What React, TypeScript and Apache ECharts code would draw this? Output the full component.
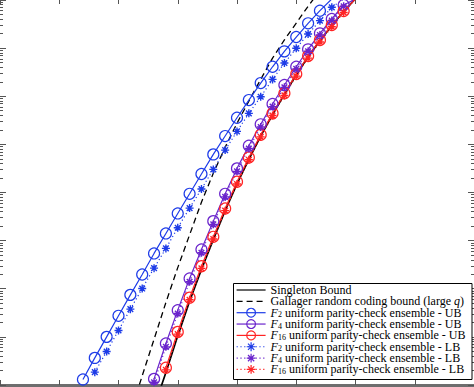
import React, { useEffect, useRef } from "react";
import * as echarts from "echarts";

// x positions (arbitrary units: one tick = 1) and block error probabilities
const singletonX = [2.7, 2.8, 3.0, 3.2, 3.4, 3.6, 3.8, 4.0, 4.2, 4.4, 4.6, 4.8, 5.0, 5.2, 5.4, 5.6, 5.8, 6.0];
const singletonY = [7.9e-9, 1.82e-8, 1.05e-7, 5.5e-7, 2.51e-6, 1.05e-5, 4.17e-5, 1.51e-4, 4.9e-4, 1.48e-3, 4.17e-3, 1.1e-2, 2.79e-2, 6.6e-2, 0.143, 0.295, 0.575, 1.07];

const gallagerX = [2.2, 2.4, 2.6, 2.8, 3.0, 3.2, 3.4, 3.6, 3.8, 4.0, 4.2, 4.4, 4.6, 4.8, 5.0, 5.2, 5.4];
const gallagerY = [2.6e-9, 1.55e-8, 8.9e-8, 5.2e-7, 2.75e-6, 1.32e-5, 6.3e-5, 2.51e-4, 8.7e-4, 2.75e-3, 7.9e-3, 2.24e-2, 6.2e-2, 0.148, 0.331, 0.741, 1.58];

const f2UbX = [1.4, 1.6, 1.8, 2.0, 2.2, 2.4, 2.6, 2.8, 3.0, 3.2, 3.4, 3.6, 3.8, 4.0, 4.2, 4.4, 4.6, 4.8, 5.0, 5.2, 5.4, 5.6];
const f2UbY = [1.3e-8, 3.66e-8, 1.0e-7, 2.74e-7, 7.46e-7, 1.98e-6, 5.42e-6, 1.41e-5, 3.67e-5, 9.4e-5, 2.42e-4, 6.19e-4, 1.49e-3, 3.57e-3, 8.34e-3, 1.88e-2, 4.1e-2, 8.57e-2, 0.17, 0.328, 0.6, 1.05];

const f4UbX = [2.6, 2.8, 3.0, 3.2, 3.4, 3.6, 3.8, 4.0, 4.2, 4.4, 4.6, 4.8, 5.0, 5.2, 5.4, 5.6, 5.8, 6.0];
const f4UbY = [1.34e-8, 7.29e-8, 3.59e-7, 1.64e-6, 6.56e-6, 2.54e-5, 9.4e-5, 3.17e-4, 9.35e-4, 2.61e-3, 6.89e-3, 1.71e-2, 4.1e-2, 9.44e-2, 0.203, 0.403, 0.787, 1.05];

const f16UbX = [2.8, 3.0, 3.2, 3.4, 3.6, 3.8, 4.0, 4.2, 4.4, 4.6, 4.8, 5.0, 5.2, 5.4, 5.6, 5.8, 6.0];
const f16UbY = [2.29e-8, 1.27e-7, 6.53e-7, 2.95e-6, 1.2e-5, 4.67e-5, 1.67e-4, 5.32e-4, 1.58e-3, 4.41e-3, 1.15e-2, 2.9e-2, 6.85e-2, 0.147, 0.302, 0.59, 1.05];

const f2LbX = [1.6, 1.8, 2.0, 2.2, 2.4, 2.6, 2.8, 3.0, 3.2, 3.4, 3.6, 3.8, 4.0, 4.2, 4.4, 4.6, 4.8, 5.0, 5.2, 5.4, 5.6, 5.8];
const f2LbY = [1.85e-8, 4.97e-8, 1.36e-7, 3.77e-7, 1.01e-6, 2.68e-6, 6.89e-6, 1.85e-5, 4.74e-5, 1.18e-4, 3.02e-4, 7.6e-4, 1.86e-3, 4.41e-3, 9.77e-3, 2.24e-2, 4.9e-2, 9.91e-2, 0.196, 0.372, 0.705, 1.05];

const f4LbX = [2.6, 2.8, 3.0, 3.2, 3.4, 3.6, 3.8, 4.0, 4.2, 4.4, 4.6, 4.8, 5.0, 5.2, 5.4, 5.6, 5.8, 6.0];
const f4LbY = [1.14e-8, 6.2e-8, 3.05e-7, 1.4e-6, 5.6e-6, 2.18e-5, 8.1e-5, 2.75e-4, 8.2e-4, 2.3e-3, 6.1e-3, 1.53e-2, 3.7e-2, 8.6e-2, 0.187, 0.375, 0.74, 1.05];

const f16LbX = [2.8, 3.0, 3.2, 3.4, 3.6, 3.8, 4.0, 4.2, 4.4, 4.6, 4.8, 5.0, 5.2, 5.4, 5.6, 5.8, 6.0];
const f16LbY = [2.06e-8, 1.14e-7, 5.9e-7, 2.65e-6, 1.08e-5, 4.2e-5, 1.5e-4, 4.8e-4, 1.43e-3, 3.97e-3, 1.04e-2, 2.62e-2, 6.2e-2, 0.134, 0.278, 0.55, 1.05];

const decadeTicks = [1e-8, 1e-7, 1e-6, 1e-5, 1e-4, 1e-3, 1e-2, 1e-1, 1];
const minorMultipliers = [2, 3, 4, 5, 6, 7, 8, 9];

const names = [
  "Singleton Bound",
  "Gallager random coding bound (large q)",
  "F2 uniform parity-check ensemble - UB",
  "F4 uniform parity-check ensemble - UB",
  "F16 uniform parity-check ensemble - UB",
  "F2 uniform parity-check ensemble - LB",
  "F4 uniform parity-check ensemble - LB",
  "F16 uniform parity-check ensemble - LB",
];

const BLUE = "#1e3ce8";
const PURPLE = "#6a24cc";
const RED = "#ff2424";
const ASTER = "path://M5,0L5,10M0,5L10,5M1.46,1.46L8.54,8.54M1.46,8.54L8.54,1.46";
const FONT = "Liberation Serif";

function pairs(xs: number[], ys: number[]) {
  return xs.map((x, i) => [x, ys[i]]);
}

export default function App() {
  const ref = useRef<HTMLDivElement>(null);
  useEffect(() => {
    if (!ref.current) return;
    const chart = echarts.init(ref.current, null, { renderer: "svg" });
    const minorTicks: number[] = [];
    for (let i = 0; i < decadeTicks.length - 1; i++) {
      for (const m of minorMultipliers) minorTicks.push(m * decadeTicks[i]);
    }
    const yBase = {
      type: "log" as const,
      logBase: 10,
      min: 1e-8,
      max: 1,
      axisLine: { show: false },
      axisLabel: { show: false },
      splitLine: { show: false },
      minorTick: { show: false },
    };
    const tickColor = "#555";
    const circle = (color: string) => ({
      type: "line" as const,
      symbol: "circle",
      symbolSize: 11,
      itemStyle: { color: "transparent", borderColor: color, borderWidth: 1.2 },
      lineStyle: { color, width: 1.2 },
      clip: true,
    });
    const aster = (color: string) => ({
      type: "line" as const,
      symbol: ASTER,
      symbolSize: 8,
      itemStyle: { color: "transparent", borderColor: color, borderWidth: 1.4 },
      lineStyle: { color, width: 1.2, type: [1.2, 2.6] },
      clip: true,
    });
    chart.setOption({
      animation: false,
      backgroundColor: "#fff",
      grid: { left: 0, right: 0, top: 0, bottom: 2 },
      graphic: [
        {
          type: "rect",
          left: 233,
          top: 283,
          z: 100,
          shape: { width: 238.5, height: 96 },
          style: { fill: "#fff", stroke: "#000", lineWidth: 1 },
        },
      ],
      xAxis: [
        {
          type: "value",
          min: 0,
          max: 8,
          interval: 1,
          position: "bottom",
          axisLine: { show: true, onZero: false, lineStyle: { color: "#6e6e6e", width: 3 } },
          axisTick: { inside: true, length: 5, lineStyle: { color: tickColor } },
          axisLabel: { show: false },
          splitLine: { show: false },
        },
        {
          type: "value",
          min: 0,
          max: 8,
          interval: 1,
          position: "top",
          axisLine: { show: false },
          axisTick: { inside: true, length: 4, lineStyle: { color: tickColor } },
          axisLabel: { show: false },
          splitLine: { show: false },
        },
      ],
      yAxis: [
        { ...yBase, position: "left", axisTick: { inside: true, length: 6, customValues: decadeTicks, lineStyle: { color: tickColor } } },
        { ...yBase, position: "left", axisTick: { inside: true, length: 3, customValues: minorTicks, lineStyle: { color: tickColor } } },
        { ...yBase, position: "right", axisTick: { inside: true, length: 6, customValues: decadeTicks, lineStyle: { color: tickColor } } },
        { ...yBase, position: "right", axisTick: { inside: true, length: 3, customValues: minorTicks, lineStyle: { color: tickColor } } },
      ],
      legend: {
        orient: "vertical",
        left: 236,
        top: 284,
        z: 110,
        padding: 0,
        itemWidth: 29,
        itemHeight: 11,
        itemGap: -0.65,
        selectedMode: false,
        lineStyle: { width: 1.2 },
        itemStyle: { borderWidth: 1.2 },
        textStyle: {
          fontFamily: FONT,
          fontSize: 12,
          color: "#000",
          rich: {
            i: { fontFamily: FONT, fontSize: 12, fontStyle: "italic", color: "#000" },
            s: { fontFamily: FONT, fontSize: 8, color: "#000", verticalAlign: "bottom" },
          },
        },
        formatter: (name: string) =>
          name.replace(/^F(\d+)/, "{i|F}{s|$1}").replace("large q)", "large {i|q})"),
        data: names.map((n, i) =>
          i < 2 ? { name: n, itemStyle: { color: "transparent", borderColor: "transparent" } } : { name: n }
        ),
      },
      series: [
        {
          name: names[0],
          type: "line",
          data: pairs(singletonX, singletonY),
          symbol: "none",
          itemStyle: { color: "transparent" },
          lineStyle: { color: "#000", width: 1.7 },
          clip: true,
        },
        {
          name: names[1],
          type: "line",
          data: pairs(gallagerX, gallagerY),
          symbol: "none",
          itemStyle: { color: "transparent" },
          lineStyle: { color: "#000", width: 1.3, type: [6, 4] },
          clip: true,
        },
        { name: names[2], data: pairs(f2UbX, f2UbY), ...circle(BLUE) },
        { name: names[3], data: pairs(f4UbX, f4UbY), ...circle(PURPLE) },
        { name: names[4], data: pairs(f16UbX, f16UbY), ...circle(RED) },
        { name: names[5], data: pairs(f2LbX, f2LbY), ...aster(BLUE) },
        { name: names[6], data: pairs(f4LbX, f4LbY), ...aster(PURPLE) },
        { name: names[7], data: pairs(f16LbX, f16LbY), ...aster(RED) },
      ],
    });
    return () => chart.dispose();
  }, []);
  return (
    <div
      ref={ref}
      style={{ position: "absolute", left: 0, top: 0, width: 474, height: 387, background: "#fff" }}
    />
  );
}
